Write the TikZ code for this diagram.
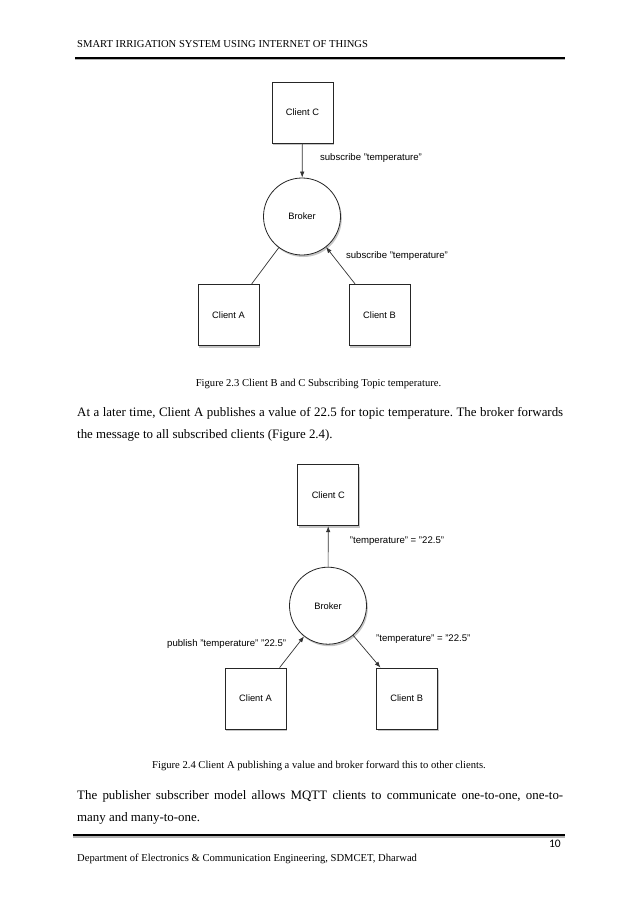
\documentclass[tikz,border=0pt]{standalone}
\usepackage{fontspec}
\setmainfont{Liberation Serif}
\setsansfont{Liberation Sans}
\newfontfamily\pagenofont{Carlito}
\usetikzlibrary{arrows.meta,shadows}
\frenchspacing

\begin{document}
\begin{tikzpicture}[x=1pt,y=-1pt,
    client/.style={draw=black!85,line width=0.8pt,fill=white,minimum size=61pt,inner sep=0pt,
      font=\sffamily\fontsize{9.3}{11}\selectfont,
      drop shadow={shadow xshift=1.3pt,shadow yshift=-2pt,opacity=0.45}},
    broker/.style={client,circle,minimum size=77pt},
    msg/.style={inner sep=0pt,font=\sffamily\fontsize{9.6}{11}\selectfont},
    link/.style={draw=black!80,line width=0.7pt},
    sends/.style={link,-{Latex[length=6pt,width=4.5pt]}},
    body/.style={anchor=base west,inner sep=0pt,font=\fontsize{12.9}{15}\selectfont},
    caption/.style={anchor=base,inner sep=0pt,font=\fontsize{10.6}{12}\selectfont},
    pagerule/.style={line width=2pt}]
    \fill[white] (0,0) rectangle (638,902);
    \useasboundingbox (0,0) rectangle (638,902);
    % header
    \node (head) at (77,47.5) [anchor=base west,inner sep=0pt,font=\fontsize{10.6}{12}\selectfont] {SMART IRRIGATION SYSTEM USING INTERNET OF THINGS};
    \coordinate (hl) at (75,57.7);
    \coordinate (hr) at (565,57.7);
    \draw[pagerule,black!30] ([yshift=-1.6pt]hl) -- ([yshift=-1.6pt]hr);
    \draw[pagerule] (hl) -- (hr);
    % figure 2.3
    \node (cC1) at (302.5,112.5) [client] {Client C};
    \node (bro1) at (302,216.5) [broker] {Broker};
    \node (cA1) at (228.5,315) [client] {Client A};
    \node (cB1) at (379.5,315) [client] {Client B};
    \draw[sends] (cC1) -- (bro1);
    \draw[link] (cA1) -- (bro1);
    \draw[sends] (cB1) -- (bro1);
    \node (subC) at (371,158) [msg] {subscribe "temperature"};
    \node (subB) at (397,256) [msg] {subscribe "temperature"};
    \node (cap1) at (318.5,386) [caption] {Figure 2.3 Client B and C Subscribing Topic temperature.};
    % text
    \node (p1a) at (77,416.5) [body] {\makebox[486pt][s]{At a later time, Client A publishes a value of 22.5 for topic temperature. The broker forwards}};
    \node (p1b) at (77,438.3) [body] {the message to all subscribed clients (Figure 2.4).};
    % figure 2.4
    \node (cC2) at (328.3,495.3) [client] {Client C};
    \node (bro2) at (328,605.7) [broker] {Broker};
    \node (cA2) at (255.5,698.5) [client] {Client A};
    \node (cB2) at (406.7,698.5) [client] {Client B};
    \draw[sends] (bro2) -- (cC2);
    \draw[sends] (cA2) -- (bro2);
    \draw[sends] (bro2) -- (cB2);
    \node (valC) at (397,540.7) [msg] {"temperature" = "22.5"};
    \node (pubA) at (226.7,644) [msg] {publish "temperature" "22.5"};
    \node (valB) at (423.3,639.3) [msg] {"temperature" = "22.5"};
    \node (cap2) at (319,768.3) [caption] {Figure 2.4 Client A publishing a value and broker forward this to other clients.};
    % text
    \node (p2a) at (77,799) [body] {\makebox[486pt][s]{The publisher subscriber model allows MQTT clients to communicate one-to-one, one-to-}};
    \node (p2b) at (77,821.5) [body] {many and many-to-one.};
    % footer
    \coordinate (fl) at (73,835);
    \coordinate (fr) at (565,835);
    \draw[pagerule,black!30] ([yshift=-1.6pt]fl) -- ([yshift=-1.6pt]fr);
    \draw[pagerule] (fl) -- (fr);
    \node (pgno) at (561,847) [anchor=base east,inner sep=0pt,font=\pagenofont\fontsize{11.5}{13}\selectfont] {10};
    \node (foot) at (77,861) [anchor=base west,inner sep=0pt,font=\fontsize{10.6}{12}\selectfont] {Department of Electronics \& Communication Engineering, SDMCET, Dharwad};
\end{tikzpicture}
\end{document}
